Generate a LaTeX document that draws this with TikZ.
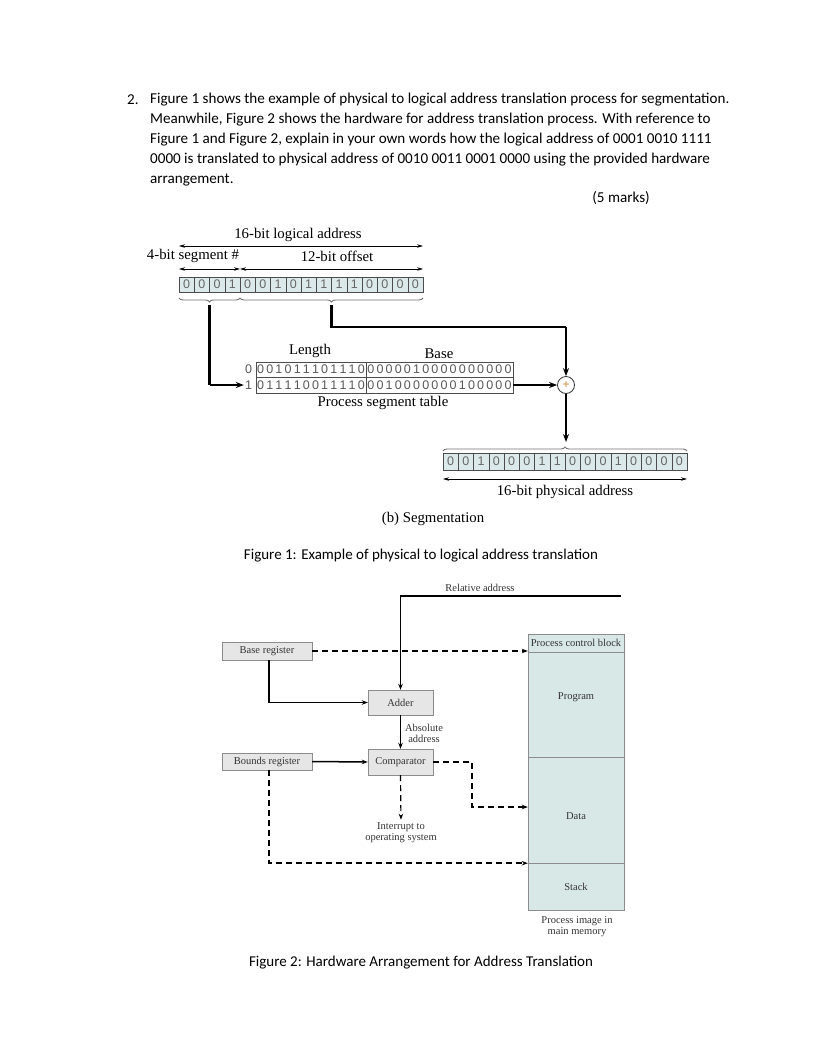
\documentclass[tikz,border=0pt]{standalone}
\usepackage{fontspec}
\setmainfont{Liberation Serif}
\newfontfamily\calfont{Carlito}
\newfontfamily\bitfont{Liberation Sans}
\usetikzlibrary{arrows.meta,decorations.pathreplacing,calc}
\definecolor{cellfill}{HTML}{DCE9EA}
\definecolor{boxfill}{HTML}{E6E6E6}
\definecolor{memfill}{HTML}{D8E8E6}
\definecolor{plusc}{HTML}{D08A3A}
\def\bitrow#1{\bitrowi#1\relax}
\def\bitrowi#1{\ifx#1\relax\else\makebox[9.15pt]{#1}\expandafter\bitrowi\fi}
\tikzset{
  qtext/.style={anchor=west,inner sep=0,font=\calfont\fontsize{15.1}{18}\selectfont},
  captext/.style={inner sep=0,font=\calfont\fontsize{15}{18}\selectfont},
  ftext/.style={inner sep=0,font=\fontsize{14.8}{17}\selectfont},
  stext/.style={inner sep=0,font=\fontsize{10.5}{12}\selectfont,text=black!80,align=center},
  bitcell/.style={draw=black!70,fill=cellfill,minimum width=15.25pt,inner sep=0,
     font=\bitfont\fontsize{12.5}{12}\selectfont,text=black!60},
  tabcell/.style={draw=black!70,fill=white,minimum height=15.5pt,inner sep=0,
     font=\bitfont\fontsize{12.5}{12}\selectfont,text=black!65},
  thickarrow/.style={line width=2.4pt,-{Stealth[length=8pt,width=6pt]}},
  thickline/.style={line width=2.4pt},
  dimarrow/.style={line width=0.8pt,{Stealth[length=6pt,width=3.5pt]}-{Stealth[length=6pt,width=3.5pt]}},
  brc/.style={decorate,decoration={brace,amplitude=4pt},draw=black!55,line width=0.9pt},
  hwbox/.style={draw=black!45,fill=boxfill,inner sep=0,font=\fontsize{10.5}{12}\selectfont,text=black!80},
  memregion/.style={draw=black!45,fill=memfill,inner sep=0,minimum width=96pt},
  hwarrow/.style={line width=1.5pt,-{Stealth[length=6pt,width=4.5pt]}},
  hwdash/.style={line width=1.5pt,dash pattern=on 6pt off 4pt,-{Stealth[length=6pt,width=4.5pt]}},
}
\begin{document}
\begin{tikzpicture}[x=1pt,y=-1pt]
\path[use as bounding box,fill=white] (0,0) rectangle (836,1052);
% question
\node[qtext] (qn) at (127,100) {2.};
\node[qtext] (q1) at (150,100) {Figure 1 shows the example of physical to logical address translation process for segmentation.};
\node[qtext] (q2) at (150,120) {Meanwhile, Figure 2 shows the hardware for address translation process. With reference to};
\node[qtext] (q3) at (150,140) {Figure 1 and Figure 2, explain in your own words how the logical address of 0001 0010 1111};
\node[qtext] (q4) at (150,160) {0000 is translated to physical address of 0010 0011 0001 0000 using the provided hardware};
\node[qtext] (q5) at (150,180) {arrangement.};
\node[qtext,anchor=east] (marks) at (650,198) {(5 marks)};

% ---------- Figure 1 ----------
\node[ftext] (lal) at (298,235) {16-bit logical address};
\coordinate (la1) at (179,246); \coordinate (la2) at (423,246);
\draw[dimarrow] (la1) -- (la2);
\node[ftext] (segl) at (193,256) {4-bit segment \#};
\node[ftext] (offl) at (337,256) {12-bit offset};
\coordinate (sa1) at (179,269); \coordinate (sa2) at (240,269); \coordinate (sa3) at (423,269);
\draw[dimarrow] (sa1) -- (sa2);
\draw[dimarrow] (sa2) -- (sa3);
\foreach \b [count=\i from 0] in {0,0,0,1,0,0,1,0,1,1,1,1,0,0,0,0}
  \node[bitcell,minimum height=15pt] (la\i) at ({179+15.25*\i+7.625},284.5) {\b};
\draw[brc,decoration={mirror}] (179,298) -- (240,298);
\draw[brc,decoration={mirror}] (240,298) -- (423,298);
\coordinate (segtip) at (209.5,305);
\coordinate (offtip) at (331.5,305);

% segment table
\node[ftext] (lenh) at (310,351) {Length};
\node[ftext] (baseh) at (439,354) {Base};
\node[tabcell,minimum width=110pt] (len0) at (311,369.5) {\bitrow{001011101110}};
\node[tabcell,minimum width=147pt] (base0) at (439.5,369.5) {\bitrow{0000010000000000}};
\node[tabcell,minimum width=110pt] (len1) at (311,385) {\bitrow{011110011110}};
\node[tabcell,minimum width=147pt] (base1) at (439.5,385) {\bitrow{0010000000100000}};
\node[inner sep=0,font=\bitfont\fontsize{12.5}{12}\selectfont,text=black!65] (r0) at (248.5,369.5) {0};
\node[inner sep=0,font=\bitfont\fontsize{12.5}{12}\selectfont,text=black!65] (r1) at (248.5,385) {1};
\node[ftext] (pst) at (383,403) {Process segment table};
\node[circle,draw=black!80,line width=0.8pt,fill=white,minimum size=17pt,inner sep=0,
      font=\bitfont\fontsize{12}{12}\selectfont,text=plusc] (plus) at (566,385) {+};
\coordinate (bend) at (566,327);
\draw[thickline] (segtip) -- (segtip |- r1.west);
\draw[thickarrow] (segtip |- r1.west) -- ([xshift=-1pt]r1.west);
\draw[thickline] (offtip) |- (bend);
\draw[thickarrow] (bend) -- (plus.north);
\draw[thickarrow] (base1.east) -- (plus.west);

% physical address
\coordinate (ptip) at (566,442);
\draw[thickarrow] (plus.south) -- (ptip);
\draw[brc] (443,451) -- (687,451);
\foreach \b [count=\i from 0] in {0,0,1,0,0,0,1,1,0,0,0,1,0,0,0,0}
  \node[bitcell,minimum height=17pt] (pa\i) at ({443+15.25*\i+7.625},461.5) {\b};
\coordinate (pa1x) at (443,479); \coordinate (pa2x) at (687,479);
\draw[dimarrow] (pa1x) -- (pa2x);
\node[ftext] (pal) at (565,492) {16-bit physical address};
\node[ftext] (bseg) at (433,519) {(b) Segmentation};
\node[captext] (cap1) at (421,556) {Figure 1: Example of physical to logical address translation};

% ---------- Figure 2 ----------
\node[stext] (rel) at (480,588) {Relative address};
\coordinate (relstart) at (621,596);
\node[hwbox,minimum width=90pt,minimum height=18pt] (basereg) at (267,651) {Base register};
\node[hwbox,minimum width=65pt,minimum height=25pt] (adder) at (400.5,702.5) {Adder};
\node[hwbox,minimum width=65pt,minimum height=26pt] (comp) at (400.5,762) {Comparator};
\node[hwbox,minimum width=90pt,minimum height=17pt] (bounds) at (267,761.5) {Bounds register};
\node[memregion,minimum height=18pt] (pcb) at (576,643) {};
\node[memregion,minimum height=105pt] (prog) at (576,704.5) {};
\node[memregion,minimum height=106pt] (data) at (576,810) {};
\node[memregion,minimum height=47pt] (stack) at (576,886.5) {};
\node[stext] (pcbl) at (576,643) {Process control block};
\node[stext] (progl) at (576,697) {Program};
\node[stext] (datal) at (576,816) {Data};
\node[stext] (stackl) at (576,887) {Stack};
\node[stext] (piml) at (577,927) {Process image in\\[-1pt]main memory};
\node[stext] (absl) at (424,733) {Absolute\\[-1pt]address};
\node[stext] (intr) at (401,833) {Interrupt to\\[-1pt]operating system};

\draw[hwarrow] (relstart) -| (adder.north);
\draw[hwdash] (basereg.east) -- (basereg.east -| pcb.west);
\draw[hwarrow] ([xshift=2pt]basereg.south) |- (adder.west);
\draw[hwarrow,line width=1.2pt] (adder.south) -- (comp.north);
\draw[hwarrow] (bounds.east) -- (comp.west);
\coordinate (cdj) at (472,807);
\draw[hwdash] (comp.east) -| (cdj) -- (cdj -| data.west);
\draw[hwdash,line width=1.2pt,shorten >=3pt] (comp.south) -- (intr.north);
\draw[hwdash] ([xshift=2pt]bounds.south) |- (data.south west);

\node[captext] (cap2) at (421,963) {Figure 2: Hardware Arrangement for Address Translation};
\end{tikzpicture}
\end{document}
